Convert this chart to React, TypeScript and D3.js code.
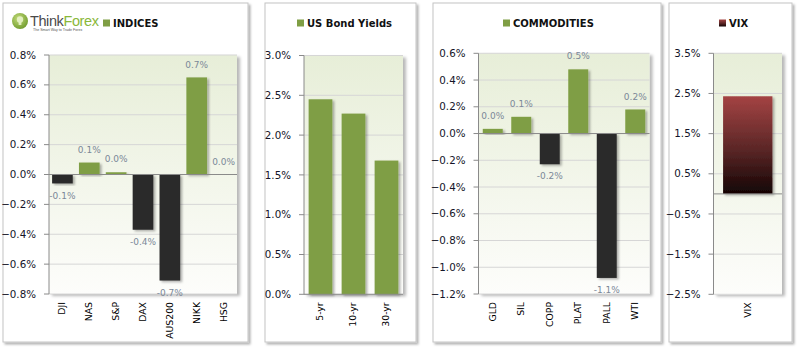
import React from 'react';
import * as d3 from 'd3';

// values (percent)
const indexCats = ['DJI', 'NAS', 'S&P', 'DAX', 'AUS200', 'NIKK', 'HSG'];
const indexVals = [-0.06, 0.08, 0.015, -0.37, -0.71, 0.65, 0];
const indexLabels = ['-0.1%', '0.1%', '0.0%', '-0.4%', '-0.7%', '0.7%', '0.0%'];
const indexTicks = [-0.8, -0.6, -0.4, -0.2, 0, 0.2, 0.4, 0.6, 0.8];

const bondCats = ['5-yr', '10-yr', '30-yr'];
const bondVals = [2.45, 2.27, 1.68];
const bondTicks = [0, 0.5, 1, 1.5, 2, 2.5, 3];

const commodCats = ['GLD', 'SIL', 'COPP', 'PLAT', 'PALL', 'WTI'];
const commodVals = [0.035, 0.125, -0.23, 0.48, -1.08, 0.18];
const commodLabels = ['0.0%', '0.1%', '-0.2%', '0.5%', '-1.1%', '0.2%'];
const commodTicks = [-1.2, -1, -0.8, -0.6, -0.4, -0.2, 0, 0.2, 0.4, 0.6];

const vixCats = ['VIX'];
const vixVals = [2.43];
const vixTicks = [-2.5, -1.5, -0.5, 0.5, 1.5, 2.5, 3.5];

const GREEN = '#7f9e44';
const DARK = '#2b2b2b';
const FONT = '"DejaVu Sans", Verdana, sans-serif';

interface PanelProps {
  box: [number, number, number, number]; // x0, y0, x1, y1
  plot: [number, number, number, number];
  cats: string[];
  values: number[];
  labels?: string[];
  ticks: number[];
  title: string;
  titleX: number;
  legendFill: string;
  padding?: number;
  barFill?: (v: number) => string;
  logo?: boolean;
}

function Panel({ box, plot, cats, values, labels, ticks, title, titleX, legendFill, padding = 0.27, barFill, logo }: PanelProps) {
  const [px0, py0, px1, py1] = plot;
  const y = d3.scaleLinear().domain([ticks[0], ticks[ticks.length - 1]]).range([py1, py0]);
  const x = d3.scaleBand<string>().domain(cats).range([px0, px1]).paddingInner(padding).paddingOuter(padding / 2);
  const zeroY = y(Math.max(0, ticks[0]));
  const fill = barFill || ((v: number) => (v >= 0 ? GREEN : DARK));

  return (
    <g>
      <rect x={box[0]} y={box[1]} width={box[2] - box[0]} height={box[3] - box[1]}
        fill="#fff" stroke="#c4c4c4" filter="url(#boxShadow)" />
      {logo && (
        <g>
          <circle cx={20} cy={21} r={8} fill="url(#logoGrad)" />
          <circle cx={20} cy={19.5} r={3.2} fill="#e8f3c8" opacity={0.9} />
          <rect x={18.6} y={22} width={2.8} height={3} fill="#e8f3c8" opacity={0.9} />
          <text x={30} y={26} fontFamily='"Liberation Sans", Arial, sans-serif' fontSize={14.5} letterSpacing={-0.4}>
            <tspan fill="#4a4a4a">Think</tspan><tspan fill="#8ab83a">Forex</tspan>
          </text>
          <text x={33} y={31} fontFamily='"Liberation Sans", Arial, sans-serif' fontSize={3.6} fill="#555">
            The Smart Way to Trade Forex
          </text>
        </g>
      )}
      <rect x={titleX} y={19.5} width={7} height={7} fill={legendFill} />
      <text x={titleX + 10} y={27} fontFamily={FONT} fontWeight="bold" fontSize={10} fill="#111">{title}</text>

      {/* plot area */}
      <rect x={px0} y={py0} width={px1 - px0} height={py1 - py0} fill="url(#plotGrad)" filter="url(#plotShadow)" />
      {ticks.map(t => (
        <line key={'g' + t} x1={px0} x2={px1} y1={y(t)} y2={y(t)} stroke="#d6d6d6" strokeWidth={1} />
      ))}

      {/* bars */}
      {values.map((v, i) => {
        const top = y(Math.max(0, v));
        const bot = y(Math.min(0, v));
        return (
          <rect key={'b' + i} x={x(cats[i])} y={top} width={x.bandwidth()} height={Math.max(0, bot - top)}
            fill={fill(v)} filter="url(#barShadow)" />
        );
      })}

      {/* zero / category axis */}
      <line x1={px0} x2={px1} y1={zeroY} y2={zeroY} stroke="#8a8a8a" strokeWidth={1} />

      {/* value axis */}
      <line x1={px0} x2={px0} y1={py0} y2={py1} stroke="#8a8a8a" strokeWidth={1} />
      {ticks.map(t => (
        <g key={'t' + t}>
          <line x1={px0 - 5} x2={px0} y1={y(t)} y2={y(t)} stroke="#8a8a8a" />
          <text x={px0 - 13} y={y(t)} dy="0.35em" textAnchor="end" fontFamily={FONT} fontSize={10.3} fill="#141428">
            {d3.format('.1f')(t)}%
          </text>
        </g>
      ))}

      {/* value labels */}
      {labels && values.map((v, i) => (
        <text key={'l' + i} x={(x(cats[i]) || 0) + x.bandwidth() / 2}
          y={v >= 0 ? y(v) - 13 : y(v) + 12} dy="0.35em" textAnchor="middle"
          fontFamily={FONT} fontSize={9} fill="#7b8898">{labels[i]}</text>
      ))}

      {/* category labels */}
      {cats.map(c => {
        const cx = (x(c) || 0) + x.bandwidth() / 2 + 3;
        const cy = py1 + 8;
        return (
          <text key={'c' + c} x={cx} y={cy} transform={`rotate(-90 ${cx} ${cy})`} textAnchor="end"
            fontFamily={FONT} fontSize={9.3} fill="#000">{c}</text>
        );
      })}
    </g>
  );
}

export default function App() {
  return (
    <svg width={800} height={350} style={{ position: 'absolute', left: 0, top: 0, background: '#fff' }}>
      <defs>
        <linearGradient id="plotGrad" x1="0" y1="0" x2="0" y2="1">
          <stop offset="0%" stopColor="#e7eed8" />
          <stop offset="100%" stopColor="#fdfdfb" />
        </linearGradient>
        <linearGradient id="vixGrad" x1="0" y1="0" x2="0" y2="1">
          <stop offset="0%" stopColor="#a44343" />
          <stop offset="55%" stopColor="#5a2626" />
          <stop offset="100%" stopColor="#140404" />
        </linearGradient>
        <radialGradient id="logoGrad" cx="0.4" cy="0.35" r="0.7">
          <stop offset="0%" stopColor="#c3dc7a" />
          <stop offset="100%" stopColor="#6f9a2c" />
        </radialGradient>
        <filter id="boxShadow" x="-5%" y="-5%" width="115%" height="115%">
          <feDropShadow dx={2} dy={2} stdDeviation={1.2} floodColor="#000" floodOpacity={0.3} />
        </filter>
        <filter id="plotShadow" x="-5%" y="-5%" width="115%" height="115%">
          <feDropShadow dx={3} dy={2} stdDeviation={1.5} floodColor="#000" floodOpacity={0.28} />
        </filter>
        <filter id="barShadow" x="-20%" y="-10%" width="150%" height="130%">
          <feDropShadow dx={2} dy={1.5} stdDeviation={1.2} floodColor="#000" floodOpacity={0.3} />
        </filter>
      </defs>

      <Panel box={[3, 3, 248, 342]} plot={[49, 55, 237, 294]} cats={indexCats} values={indexVals}
        labels={indexLabels} ticks={indexTicks} title="INDICES" titleX={103} legendFill={GREEN} padding={0.23} logo />
      <Panel box={[265, 3, 416, 342]} plot={[304, 55.5, 403, 294.3]} cats={bondCats} values={bondVals}
        ticks={bondTicks} title="US Bond Yields" titleX={297} legendFill={GREEN} padding={0.28} />
      <Panel box={[433, 3, 661, 342]} plot={[478.5, 53.3, 649.5, 294]} cats={commodCats} values={commodVals}
        labels={commodLabels} ticks={commodTicks} title="COMMODITIES" titleX={503} legendFill={GREEN} padding={0.3} />
      <Panel box={[669, 3, 792, 342]} plot={[713.5, 53.3, 782, 294.3]} cats={vixCats} values={vixVals}
        ticks={vixTicks} title="VIX" titleX={719} legendFill="url(#vixGrad)" padding={0.28}
        barFill={() => 'url(#vixGrad)'} />
    </svg>
  );
}
